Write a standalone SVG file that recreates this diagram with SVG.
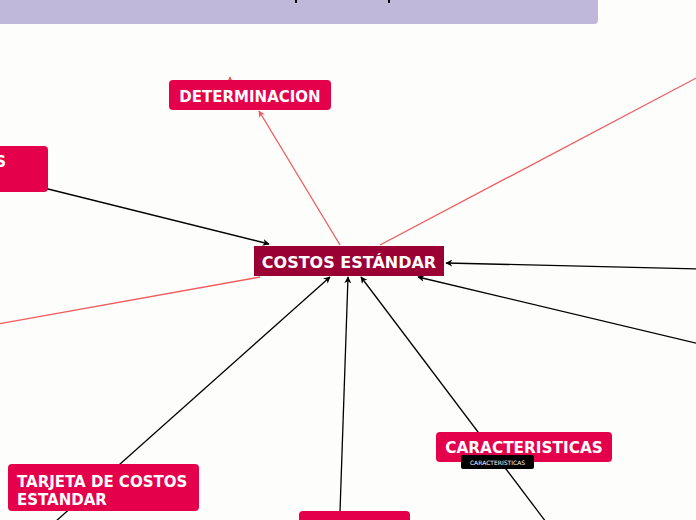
<svg xmlns="http://www.w3.org/2000/svg" width="696" height="520" viewBox="0 0 696 520">
<defs>
<style>
.node{fill:#e5004c}
.main{fill:#9b0034}
.t{font-family:"DejaVu Sans",Verdana,sans-serif;font-weight:bold;fill:#fff}
.blk{stroke:#000;stroke-width:1.3;fill:none}
.red{stroke:#f05a5a;stroke-width:1.3;fill:none}
</style>
<marker id="ab" viewBox="0 0 10 10" refX="9" refY="5" markerWidth="7" markerHeight="7" orient="auto" markerUnits="userSpaceOnUse"><path d="M0,0 L10,5 L0,10 L3,5 z" fill="#000"/></marker>
<marker id="ar" viewBox="0 0 10 10" refX="9" refY="5" markerWidth="7" markerHeight="7" orient="auto" markerUnits="userSpaceOnUse"><path d="M0,0 L10,5 L0,10 L3,5 z" fill="#f05a5a"/></marker>
</defs>
<rect width="696" height="520" fill="#fdfdfc"/>
<g id="top-bar">
<rect x="-10" y="-10" width="608" height="34" rx="4" fill="#bfb8da"/>
<rect x="295" y="0" width="2" height="3" fill="#000"/>
<rect x="388" y="0" width="2" height="3" fill="#000"/>
</g>
<g id="connectors">
<line class="red" x1="340" y1="245" x2="259" y2="111" marker-end="url(#ar)"/>
<line class="red" x1="230" y1="82" x2="230" y2="77" marker-end="url(#ar)"/>
<line class="red" x1="380" y1="245" x2="700" y2="76"/>
<line class="red" x1="260" y1="277" x2="-2" y2="324"/>
<line class="blk" x1="40" y1="187" x2="269" y2="244" marker-end="url(#ab)"/>
<line class="blk" x1="700" y1="269" x2="446" y2="263" marker-end="url(#ab)"/>
<line class="blk" x1="700" y1="344" x2="418" y2="277" marker-end="url(#ab)"/>
<line class="blk" x1="55" y1="522" x2="330" y2="277" marker-end="url(#ab)"/>
<line class="blk" x1="340" y1="512" x2="348" y2="277" marker-end="url(#ab)"/>
<line class="blk" x1="546" y1="522" x2="361" y2="277" marker-end="url(#ab)"/>
</g>
<g id="node-determinacion">
<rect class="node" x="169" y="80" width="162" height="30" rx="4"/>
<text class="t" x="250" y="102" font-size="15" text-anchor="middle">DETERMINACION</text>
</g>
<g id="node-left">
<rect class="node" x="-20" y="146" width="68" height="46" rx="4"/>
<text class="t" x="6" y="167" font-size="15" text-anchor="end">S</text>
</g>
<g id="node-costos">
<rect class="main" x="254" y="246" width="190" height="30"/>
<text class="t" x="349" y="268" font-size="16" text-anchor="middle">COSTOS ESTÁNDAR</text>
</g>
<g id="node-caracteristicas">
<rect class="node" x="436" y="432" width="176" height="30" rx="4"/>
<text class="t" x="524" y="453" font-size="15.3" text-anchor="middle">CARACTERISTICAS</text>
<rect x="461" y="455" width="73" height="14" rx="2" fill="#000"/>
<text x="497.5" y="465" font-size="6" text-anchor="middle" font-family="DejaVu Sans,sans-serif" fill="#fff">CARACTERISTICAS</text>
</g>
<g id="node-tarjeta">
<rect class="node" x="8" y="464" width="191" height="47" rx="4"/>
<text class="t" x="17" y="487" font-size="15">TARJETA DE COSTOS</text>
<text class="t" x="17" y="505" font-size="15">ESTANDAR</text>
</g>
<g id="node-bottom">
<rect class="node" x="299" y="511" width="111" height="30" rx="4"/>
</g>
</svg>
